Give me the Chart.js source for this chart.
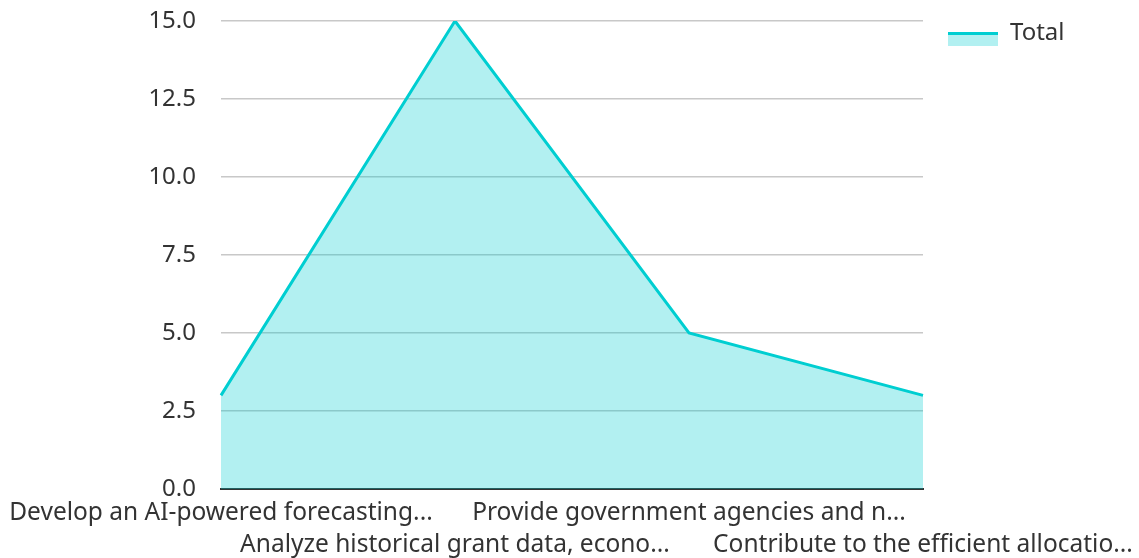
<!DOCTYPE html>
<html>
<head>
<meta charset="utf-8">
<script src="https://cdn.jsdelivr.net/npm/chart.js@4.4.1/dist/chart.umd.min.js"></script>
<style>
  html, body { margin: 0; padding: 0; background: #fff; }
  #wrap { width: 1139px; height: 558px; }
</style>
</head>
<body>
<div id="wrap"><canvas id="chart_area"></canvas></div>
<script>
const categories = [
  'Develop an AI-powered forecasting...',
  'Analyze historical grant data, econo...',
  'Provide government agencies and n...',
  'Contribute to the efficient allocatio...'
];
const totalValues = [3, 15, 5, 3];
const yTicks = [0, 2.5, 5, 7.5, 10, 12.5, 15];

const lineColor = 'rgb(0, 206, 209)';
const fillColor = 'rgba(0, 206, 209, 0.3)';

// legend swatch: filled box with a line along the top, sitting a bit low
const swatch = document.createElement('canvas');
swatch.width = 65;
swatch.height = 28;
const sctx = swatch.getContext('2d');
sctx.fillStyle = fillColor;
sctx.fillRect(15, 13, 50, 14);
sctx.fillStyle = lineColor;
sctx.fillRect(15, 13, 50, 3);

// stagger the long labels on two rows
const labels = categories.map((c, i) => (i % 2 === 0 ? [c, ''] : ['', c]));

Chart.defaults.font.family = '"Noto Sans", sans-serif';
Chart.defaults.color = '#333';

new Chart(document.getElementById('chart_area'), {
  type: 'line',
  data: {
    labels: labels,
    datasets: [
      {
        label: 'Total',
        data: totalValues,
        borderColor: lineColor,
        backgroundColor: fillColor,
        borderWidth: 3,
        fill: 'origin',
        pointRadius: 0,
        tension: 0,
        pointStyle: swatch,
      },
    ],
  },
  options: {
    responsive: true,
    maintainAspectRatio: false,
    animation: false,
    layout: { padding: { left: 10, top: 11, right: 10, bottom: 0 } },
    scales: {
      x: {
        offset: false,
        grid: { display: false, drawTicks: false },
        border: { display: true, color: '#333', width: 2 },
        ticks: {
          maxRotation: 0,
          autoSkip: false,
          padding: 8,
          font: { size: 24.5, lineHeight: 1.3 },
          color: '#333',
        },
        afterFit: (axis) => {
          axis.paddingLeft = 221;
          axis.paddingRight = 216;
          axis.height = 69;
        },
      },
      y: {
        min: 0,
        max: 15,
        afterBuildTicks: (axis) => {
          axis.ticks = yTicks.map((v) => ({ value: v }));
        },
        grid: { color: '#c8c8c8', lineWidth: 1.5, drawTicks: false },
        border: { display: false },
        ticks: {
          padding: 25,
          font: { size: 24 },
          color: '#333',
          callback: (v) => Number(v).toFixed(1),
        },
        afterFit: (axis) => {
          axis.paddingTop = 21;
          axis.paddingBottom = 10;
        },
      },
    },
    plugins: {
      legend: {
        position: 'right',
        align: 'start',
        labels: {
          usePointStyle: true,
          pointStyleWidth: 65,
          font: { size: 24 },
          color: '#333',
          padding: 10,
        },
      },
      tooltip: { enabled: false },
    },
  },
});
</script>
</body>
</html>
